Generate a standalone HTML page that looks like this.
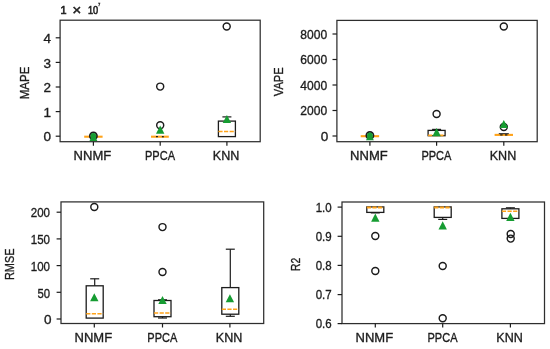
<!DOCTYPE html>
<html><head><meta charset="utf-8"><title>Boxplots</title>
<style>
html,body{margin:0;padding:0;background:#fff;}
svg{display:block;font-family:"Liberation Sans", "DejaVu Sans", sans-serif;fill:#1c1c1c;filter:blur(0.35px);}
text{stroke:#1c1c1c;stroke-width:0.35px;}
</style></head>
<body>
<svg width="550" height="349" viewBox="0 0 550 349">
<rect x="0" y="0" width="550" height="349" fill="#ffffff"/>
<rect x="60.10" y="20.20" width="200.10" height="121.50" fill="none" stroke="#2e2e2e" stroke-width="1.25"/>
<line x1="93.40" y1="141.70" x2="93.40" y2="145.70" stroke="#1c1c1c" stroke-width="1.2" />
<text x="92.40" y="160.30" font-size="13.5" text-anchor="middle" textLength="37.6" lengthAdjust="spacingAndGlyphs">NNMF</text>
<line x1="160.20" y1="141.70" x2="160.20" y2="145.70" stroke="#1c1c1c" stroke-width="1.2" />
<text x="160.00" y="160.30" font-size="13.5" text-anchor="middle" textLength="30.0" lengthAdjust="spacingAndGlyphs">PPCA</text>
<line x1="226.90" y1="141.70" x2="226.90" y2="145.70" stroke="#1c1c1c" stroke-width="1.2" />
<text x="226.10" y="160.30" font-size="13.5" text-anchor="middle" textLength="26.5" lengthAdjust="spacingAndGlyphs">KNN</text>
<line x1="55.70" y1="136.20" x2="60.10" y2="136.20" stroke="#1c1c1c" stroke-width="1.2" />
<text x="51.00" y="141.30" font-size="13.5" text-anchor="end" >0</text>
<line x1="55.70" y1="111.60" x2="60.10" y2="111.60" stroke="#1c1c1c" stroke-width="1.2" />
<text x="51.00" y="116.70" font-size="13.5" text-anchor="end" >1</text>
<line x1="55.70" y1="87.00" x2="60.10" y2="87.00" stroke="#1c1c1c" stroke-width="1.2" />
<text x="51.00" y="92.10" font-size="13.5" text-anchor="end" >2</text>
<line x1="55.70" y1="62.40" x2="60.10" y2="62.40" stroke="#1c1c1c" stroke-width="1.2" />
<text x="51.00" y="67.50" font-size="13.5" text-anchor="end" >3</text>
<line x1="55.70" y1="37.80" x2="60.10" y2="37.80" stroke="#1c1c1c" stroke-width="1.2" />
<text x="51.00" y="42.90" font-size="13.5" text-anchor="end" >4</text>
<text transform="translate(28.80,82.95) rotate(-90)" font-size="13.5" text-anchor="middle" textLength="32.6" lengthAdjust="spacingAndGlyphs">MAPE</text>
<text x="60.6" y="13.9" font-size="10.9" style="stroke-width:0.6px">1</text>
<text x="72.2" y="14.9" font-size="15.5" style="stroke-width:0.45px">×</text>
<text x="88.0" y="13.9" font-size="10.9" textLength="10.2" lengthAdjust="spacingAndGlyphs" style="stroke-width:0.6px">10</text>
<text x="97.9" y="6.4" font-size="4.2">7</text>
<line x1="84.20" y1="136.70" x2="102.60" y2="136.70" stroke="#ffa31a" stroke-width="2.1" />
<circle cx="93.40" cy="135.90" r="3.6" fill="none" stroke="#1c1c1c" stroke-width="1.7"/>
<polygon points="93.40,132.85 89.50,140.95 97.30,140.95" fill="#169c32"/>
<circle cx="93.40" cy="136.00" r="2.9" fill="#169c32"/>
<line x1="151.00" y1="136.70" x2="168.80" y2="136.70" stroke="#ffa31a" stroke-width="2.1" />
<line x1="156.00" y1="136.70" x2="157.90" y2="136.70" stroke="#1c1c1c" stroke-width="1.3" />
<line x1="161.90" y1="136.70" x2="163.80" y2="136.70" stroke="#1c1c1c" stroke-width="1.3" />
<circle cx="160.20" cy="86.60" r="3.5" fill="none" stroke="#1c1c1c" stroke-width="1.45"/>
<circle cx="160.20" cy="125.20" r="3.5" fill="none" stroke="#1c1c1c" stroke-width="1.45"/>
<polygon points="160.20,125.55 156.00,133.65 164.40,133.65" fill="#169c32"/>
<rect x="218.40" y="121.10" width="17.00" height="15.50" fill="none" stroke="#1c1c1c" stroke-width="1.3"/>
<line x1="226.90" y1="121.10" x2="226.90" y2="116.90" stroke="#1c1c1c" stroke-width="1.2" />
<line x1="222.40" y1="116.90" x2="231.40" y2="116.90" stroke="#1c1c1c" stroke-width="1.2" />
<line x1="218.40" y1="131.50" x2="235.40" y2="131.50" stroke="#ffa31a" stroke-width="1.6" stroke-dasharray="4.2 1.4"/>
<circle cx="226.70" cy="26.40" r="3.5" fill="none" stroke="#1c1c1c" stroke-width="1.45"/>
<polygon points="226.90,114.95 222.70,123.05 231.10,123.05" fill="#169c32"/>
<rect x="336.90" y="20.40" width="200.30" height="121.30" fill="none" stroke="#2e2e2e" stroke-width="1.25"/>
<line x1="369.90" y1="141.70" x2="369.90" y2="145.70" stroke="#1c1c1c" stroke-width="1.2" />
<text x="368.90" y="160.30" font-size="13.5" text-anchor="middle" textLength="37.6" lengthAdjust="spacingAndGlyphs">NNMF</text>
<line x1="436.60" y1="141.70" x2="436.60" y2="145.70" stroke="#1c1c1c" stroke-width="1.2" />
<text x="436.40" y="160.30" font-size="13.5" text-anchor="middle" textLength="30.0" lengthAdjust="spacingAndGlyphs">PPCA</text>
<line x1="503.80" y1="141.70" x2="503.80" y2="145.70" stroke="#1c1c1c" stroke-width="1.2" />
<text x="503.00" y="160.30" font-size="13.5" text-anchor="middle" textLength="26.5" lengthAdjust="spacingAndGlyphs">KNN</text>
<line x1="332.50" y1="136.00" x2="336.90" y2="136.00" stroke="#1c1c1c" stroke-width="1.2" />
<text x="328.30" y="140.95" font-size="13.5" text-anchor="end" >0</text>
<line x1="332.50" y1="110.50" x2="336.90" y2="110.50" stroke="#1c1c1c" stroke-width="1.2" />
<text x="327.10" y="115.45" font-size="13.5" text-anchor="end" textLength="26.8" lengthAdjust="spacingAndGlyphs">2000</text>
<line x1="332.50" y1="85.00" x2="336.90" y2="85.00" stroke="#1c1c1c" stroke-width="1.2" />
<text x="327.10" y="89.95" font-size="13.5" text-anchor="end" textLength="26.8" lengthAdjust="spacingAndGlyphs">4000</text>
<line x1="332.50" y1="59.50" x2="336.90" y2="59.50" stroke="#1c1c1c" stroke-width="1.2" />
<text x="327.10" y="64.45" font-size="13.5" text-anchor="end" textLength="26.8" lengthAdjust="spacingAndGlyphs">6000</text>
<line x1="332.50" y1="34.00" x2="336.90" y2="34.00" stroke="#1c1c1c" stroke-width="1.2" />
<text x="327.10" y="38.95" font-size="13.5" text-anchor="end" textLength="26.8" lengthAdjust="spacingAndGlyphs">8000</text>
<text transform="translate(282.60,81.75) rotate(-90)" font-size="13.5" text-anchor="middle" textLength="28.8" lengthAdjust="spacingAndGlyphs">VAPE</text>
<line x1="360.70" y1="136.20" x2="379.10" y2="136.20" stroke="#ffa31a" stroke-width="2.1" />
<circle cx="369.90" cy="135.40" r="3.6" fill="none" stroke="#1c1c1c" stroke-width="1.7"/>
<polygon points="369.90,132.15 366.00,140.25 373.80,140.25" fill="#169c32"/>
<circle cx="369.90" cy="135.50" r="2.9" fill="#169c32"/>
<rect x="428.10" y="130.40" width="17.00" height="5.30" fill="none" stroke="#1c1c1c" stroke-width="1.3"/>
<line x1="436.60" y1="130.40" x2="436.60" y2="129.40" stroke="#1c1c1c" stroke-width="1.2" />
<line x1="432.10" y1="129.40" x2="441.10" y2="129.40" stroke="#1c1c1c" stroke-width="1.2" />
<line x1="428.10" y1="135.40" x2="445.10" y2="135.40" stroke="#ffa31a" stroke-width="1.6" stroke-dasharray="4.2 1.4"/>
<circle cx="436.60" cy="114.00" r="3.5" fill="none" stroke="#1c1c1c" stroke-width="1.45"/>
<polygon points="436.60,128.05 432.40,136.15 440.80,136.15" fill="#169c32"/>
<line x1="494.60" y1="134.90" x2="513.00" y2="134.90" stroke="#ffa31a" stroke-width="2.1" />
<line x1="500.20" y1="134.90" x2="502.60" y2="134.90" stroke="#1c1c1c" stroke-width="1.3" />
<line x1="505.00" y1="134.90" x2="507.40" y2="134.90" stroke="#1c1c1c" stroke-width="1.3" />
<line x1="498.80" y1="133.70" x2="508.80" y2="133.70" stroke="#1c1c1c" stroke-width="1.0" />
<circle cx="503.80" cy="127.00" r="3.5" fill="none" stroke="#1c1c1c" stroke-width="1.45"/>
<circle cx="503.80" cy="26.50" r="3.5" fill="none" stroke="#1c1c1c" stroke-width="1.45"/>
<polygon points="503.80,119.95 499.60,128.05 508.00,128.05" fill="#169c32"/>
<rect x="61.00" y="201.90" width="202.70" height="121.60" fill="none" stroke="#2e2e2e" stroke-width="1.25"/>
<line x1="94.30" y1="323.50" x2="94.30" y2="327.50" stroke="#1c1c1c" stroke-width="1.2" />
<text x="93.30" y="342.10" font-size="13.5" text-anchor="middle" textLength="37.6" lengthAdjust="spacingAndGlyphs">NNMF</text>
<line x1="162.50" y1="323.50" x2="162.50" y2="327.50" stroke="#1c1c1c" stroke-width="1.2" />
<text x="162.30" y="342.10" font-size="13.5" text-anchor="middle" textLength="30.0" lengthAdjust="spacingAndGlyphs">PPCA</text>
<line x1="229.90" y1="323.50" x2="229.90" y2="327.50" stroke="#1c1c1c" stroke-width="1.2" />
<text x="229.10" y="342.10" font-size="13.5" text-anchor="middle" textLength="26.5" lengthAdjust="spacingAndGlyphs">KNN</text>
<line x1="56.60" y1="319.00" x2="61.00" y2="319.00" stroke="#1c1c1c" stroke-width="1.2" />
<text x="51.40" y="324.25" font-size="13.5" text-anchor="end" >0</text>
<line x1="56.60" y1="292.30" x2="61.00" y2="292.30" stroke="#1c1c1c" stroke-width="1.2" />
<text x="50.00" y="297.55" font-size="13.5" text-anchor="end" textLength="12.6" lengthAdjust="spacingAndGlyphs">50</text>
<line x1="56.60" y1="265.60" x2="61.00" y2="265.60" stroke="#1c1c1c" stroke-width="1.2" />
<text x="50.00" y="270.85" font-size="13.5" text-anchor="end" textLength="19.2" lengthAdjust="spacingAndGlyphs">100</text>
<line x1="56.60" y1="238.90" x2="61.00" y2="238.90" stroke="#1c1c1c" stroke-width="1.2" />
<text x="50.00" y="244.15" font-size="13.5" text-anchor="end" textLength="19.2" lengthAdjust="spacingAndGlyphs">150</text>
<line x1="56.60" y1="212.20" x2="61.00" y2="212.20" stroke="#1c1c1c" stroke-width="1.2" />
<text x="50.00" y="217.45" font-size="13.5" text-anchor="end" textLength="19.2" lengthAdjust="spacingAndGlyphs">200</text>
<text transform="translate(14.30,264.30) rotate(-90)" font-size="13.5" text-anchor="middle" textLength="31.6" lengthAdjust="spacingAndGlyphs">RMSE</text>
<rect x="86.20" y="285.80" width="17.00" height="32.30" fill="none" stroke="#1c1c1c" stroke-width="1.3"/>
<line x1="94.70" y1="285.80" x2="94.70" y2="278.80" stroke="#1c1c1c" stroke-width="1.2" />
<line x1="90.20" y1="278.80" x2="99.20" y2="278.80" stroke="#1c1c1c" stroke-width="1.2" />
<line x1="86.20" y1="313.70" x2="103.20" y2="313.70" stroke="#ffa31a" stroke-width="1.6" stroke-dasharray="4.2 1.4"/>
<circle cx="94.30" cy="206.90" r="3.5" fill="none" stroke="#1c1c1c" stroke-width="1.45"/>
<polygon points="94.30,293.25 90.10,301.35 98.50,301.35" fill="#169c32"/>
<rect x="154.00" y="300.50" width="17.00" height="16.20" fill="none" stroke="#1c1c1c" stroke-width="1.3"/>
<line x1="162.50" y1="300.50" x2="162.50" y2="299.80" stroke="#1c1c1c" stroke-width="1.2" />
<line x1="158.00" y1="299.80" x2="167.00" y2="299.80" stroke="#1c1c1c" stroke-width="1.2" />
<line x1="162.50" y1="316.70" x2="162.50" y2="318.00" stroke="#1c1c1c" stroke-width="1.2" />
<line x1="158.00" y1="318.00" x2="167.00" y2="318.00" stroke="#1c1c1c" stroke-width="1.2" />
<line x1="154.00" y1="313.00" x2="171.00" y2="313.00" stroke="#ffa31a" stroke-width="1.6" stroke-dasharray="4.2 1.4"/>
<circle cx="162.50" cy="227.10" r="3.5" fill="none" stroke="#1c1c1c" stroke-width="1.45"/>
<circle cx="162.50" cy="271.90" r="3.5" fill="none" stroke="#1c1c1c" stroke-width="1.45"/>
<polygon points="162.50,295.95 158.30,304.05 166.70,304.05" fill="#169c32"/>
<rect x="221.80" y="287.60" width="17.00" height="26.60" fill="none" stroke="#1c1c1c" stroke-width="1.3"/>
<line x1="230.30" y1="287.60" x2="230.30" y2="249.20" stroke="#1c1c1c" stroke-width="1.2" />
<line x1="225.80" y1="249.20" x2="234.80" y2="249.20" stroke="#1c1c1c" stroke-width="1.2" />
<line x1="230.30" y1="314.20" x2="230.30" y2="316.30" stroke="#1c1c1c" stroke-width="1.2" />
<line x1="225.80" y1="316.30" x2="234.80" y2="316.30" stroke="#1c1c1c" stroke-width="1.2" />
<line x1="221.80" y1="309.20" x2="238.80" y2="309.20" stroke="#ffa31a" stroke-width="1.6" stroke-dasharray="4.2 1.4"/>
<polygon points="229.90,294.25 225.70,302.35 234.10,302.35" fill="#169c32"/>
<rect x="342.00" y="202.00" width="202.50" height="121.60" fill="none" stroke="#2e2e2e" stroke-width="1.25"/>
<line x1="375.30" y1="323.60" x2="375.30" y2="327.60" stroke="#1c1c1c" stroke-width="1.2" />
<text x="374.30" y="341.90" font-size="13.5" text-anchor="middle" textLength="37.6" lengthAdjust="spacingAndGlyphs">NNMF</text>
<line x1="442.70" y1="323.60" x2="442.70" y2="327.60" stroke="#1c1c1c" stroke-width="1.2" />
<text x="442.50" y="341.90" font-size="13.5" text-anchor="middle" textLength="30.0" lengthAdjust="spacingAndGlyphs">PPCA</text>
<line x1="510.40" y1="323.60" x2="510.40" y2="327.60" stroke="#1c1c1c" stroke-width="1.2" />
<text x="509.60" y="341.90" font-size="13.5" text-anchor="middle" textLength="26.5" lengthAdjust="spacingAndGlyphs">KNN</text>
<line x1="337.60" y1="323.60" x2="342.00" y2="323.60" stroke="#1c1c1c" stroke-width="1.2" />
<text x="331.70" y="328.35" font-size="13.5" text-anchor="end" textLength="16.0" lengthAdjust="spacingAndGlyphs">0.6</text>
<line x1="337.60" y1="294.60" x2="342.00" y2="294.60" stroke="#1c1c1c" stroke-width="1.2" />
<text x="331.70" y="299.35" font-size="13.5" text-anchor="end" textLength="16.0" lengthAdjust="spacingAndGlyphs">0.7</text>
<line x1="337.60" y1="265.40" x2="342.00" y2="265.40" stroke="#1c1c1c" stroke-width="1.2" />
<text x="331.70" y="270.15" font-size="13.5" text-anchor="end" textLength="16.0" lengthAdjust="spacingAndGlyphs">0.8</text>
<line x1="337.60" y1="236.30" x2="342.00" y2="236.30" stroke="#1c1c1c" stroke-width="1.2" />
<text x="331.70" y="241.05" font-size="13.5" text-anchor="end" textLength="16.0" lengthAdjust="spacingAndGlyphs">0.9</text>
<line x1="337.60" y1="207.10" x2="342.00" y2="207.10" stroke="#1c1c1c" stroke-width="1.2" />
<text x="331.70" y="211.85" font-size="13.5" text-anchor="end" textLength="16.0" lengthAdjust="spacingAndGlyphs">1.0</text>
<text transform="translate(299.70,264.40) rotate(-90)" font-size="13.5" text-anchor="middle" textLength="13.2" lengthAdjust="spacingAndGlyphs">R2</text>
<rect x="366.80" y="206.90" width="17.00" height="5.50" fill="none" stroke="#1c1c1c" stroke-width="1.3"/>
<line x1="375.30" y1="212.40" x2="375.30" y2="212.90" stroke="#1c1c1c" stroke-width="1.2" />
<line x1="370.80" y1="212.90" x2="379.80" y2="212.90" stroke="#1c1c1c" stroke-width="1.2" />
<line x1="366.80" y1="207.40" x2="383.80" y2="207.40" stroke="#ffa31a" stroke-width="2.0" stroke-dasharray="4.2 1.4"/>
<circle cx="375.30" cy="236.00" r="3.5" fill="none" stroke="#1c1c1c" stroke-width="1.45"/>
<circle cx="375.30" cy="271.00" r="3.5" fill="none" stroke="#1c1c1c" stroke-width="1.45"/>
<polygon points="375.30,213.55 371.10,221.65 379.50,221.65" fill="#169c32"/>
<rect x="434.20" y="206.90" width="17.00" height="10.50" fill="none" stroke="#1c1c1c" stroke-width="1.3"/>
<line x1="442.70" y1="217.40" x2="442.70" y2="219.40" stroke="#1c1c1c" stroke-width="1.2" />
<line x1="438.20" y1="219.40" x2="447.20" y2="219.40" stroke="#1c1c1c" stroke-width="1.2" />
<line x1="434.20" y1="207.40" x2="451.20" y2="207.40" stroke="#ffa31a" stroke-width="2.0" stroke-dasharray="4.2 1.4"/>
<circle cx="442.70" cy="266.00" r="3.5" fill="none" stroke="#1c1c1c" stroke-width="1.45"/>
<circle cx="442.70" cy="318.20" r="3.5" fill="none" stroke="#1c1c1c" stroke-width="1.45"/>
<polygon points="442.70,221.35 438.50,229.45 446.90,229.45" fill="#169c32"/>
<rect x="501.90" y="208.80" width="17.00" height="9.60" fill="none" stroke="#1c1c1c" stroke-width="1.3"/>
<line x1="510.40" y1="208.80" x2="510.40" y2="207.80" stroke="#1c1c1c" stroke-width="1.2" />
<line x1="505.90" y1="207.80" x2="514.90" y2="207.80" stroke="#1c1c1c" stroke-width="1.2" />
<line x1="501.90" y1="211.30" x2="518.90" y2="211.30" stroke="#ffa31a" stroke-width="1.6" stroke-dasharray="4.2 1.4"/>
<circle cx="510.70" cy="234.00" r="3.5" fill="none" stroke="#1c1c1c" stroke-width="1.45"/>
<circle cx="510.70" cy="238.60" r="3.5" fill="none" stroke="#1c1c1c" stroke-width="1.45"/>
<polygon points="510.40,212.85 506.20,220.95 514.60,220.95" fill="#169c32"/>
</svg>
</body></html>
